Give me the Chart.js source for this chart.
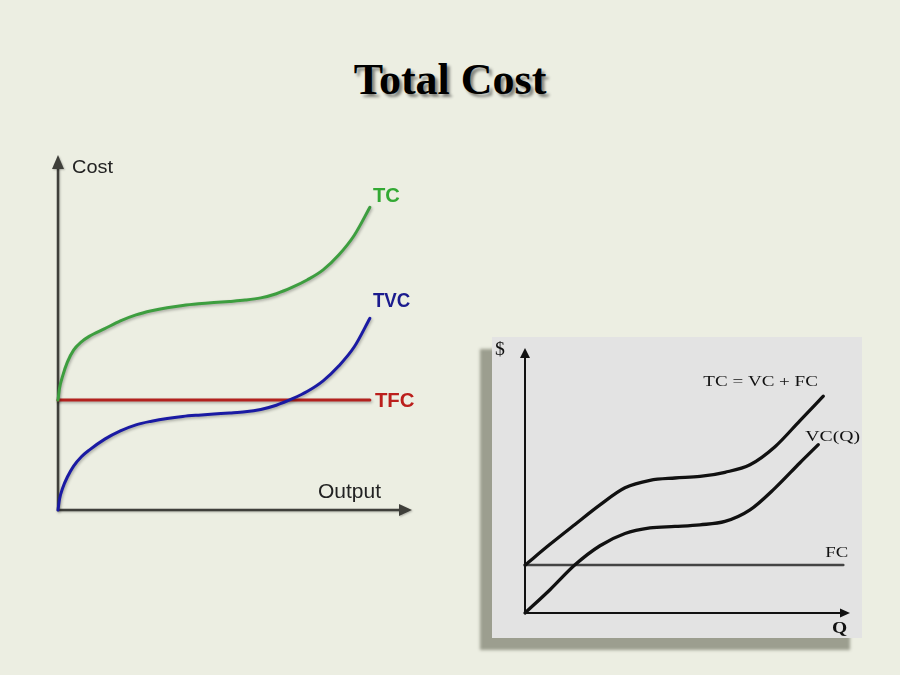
<!DOCTYPE html>
<html>
<head>
<meta charset="utf-8">
<title>Total Cost</title>
<script src="https://cdn.jsdelivr.net/npm/chart.js@4.4.1/dist/chart.umd.min.js"></script>
<style>
  html, body { margin:0; padding:0; }
  body { width:900px; height:675px; background:#eceee2; position:relative; overflow:hidden; }
  .title { position:absolute; left:0; top:58px; width:900px; text-align:center;
           font:bold 44px/44px "Liberation Serif","Times New Roman",serif; color:#000;
           text-shadow:3px 3px 3px rgba(0,0,0,.45); }
  #leftWrap { position:absolute; left:30px; top:130px; width:420px; height:410px; }
  #rightBox { position:absolute; left:492px; top:337px; width:370px; height:301px;
              background:#e3e3e3; box-shadow:-12px 12px 3px #9c9e8f; }
  canvas { display:block; }
</style>
</head>
<body>
<div class="title">Total Cost</div>
<div id="leftWrap"><canvas id="leftChart" width="420" height="410"></canvas></div>
<div id="rightBox"><canvas id="rightChart" width="370" height="301"></canvas></div>

<script>
/* ---------- left diagram: Cost / Output ---------- */
const outputQty = [0, 0.05, 0.15, 0.3, 0.5, 0.75, 1, 1.5, 2, 2.5, 3, 3.5, 4, 4.5, 5, 5.5, 6, 6.5, 7, 7.5, 8, 8.5, 9, 9.5, 10];
const tcValues  = [10, 11.1, 12.2, 13.45, 14.55, 15.3, 15.8, 16.5, 17.2, 17.75, 18.13, 18.41, 18.61, 18.76, 18.88, 18.98, 19.1, 19.3, 19.68, 20.25, 20.95, 21.85, 23.2, 25.0, 27.55];
const tvcValues = [0, 1.0, 2.0, 3.0, 4.0, 4.85, 5.45, 6.45, 7.2, 7.75, 8.08, 8.33, 8.51, 8.63, 8.73, 8.82, 8.93, 9.15, 9.53, 10.1, 10.8, 11.75, 13.1, 14.85, 17.45];
const tfcQty    = [0, 10];
const tfcValues = [10, 10];
const leftMax   = { x: 11.35, y: 32.3 };

/* ---------- right diagram: $ / Q ---------- */
const tcQ       = [0, 2.5, 5, 7.5, 10, 12.5, 15, 17.5, 20, 22.5, 25, 27.5, 29.83];
const tcRight   = [4.77, 6.84, 8.82, 10.77, 12.47, 13.22, 13.45, 13.6, 14.02, 14.77, 16.57, 19.17, 21.6];
const vcQ       = [0, 2.5, 5, 7.5, 10, 12.5, 15, 17.5, 20, 22.5, 25, 27.5, 29.33];
const vcValues  = [0, 2.32, 4.8, 6.7, 7.92, 8.47, 8.62, 8.79, 9.12, 10.27, 12.44, 14.97, 16.77];
const fcQ       = [0, 31.83];
const fcValues  = [4.77, 4.77];
const rightMax  = { x: 32.5, y: 26.4 };

const pts = (xs, ys) => xs.map((x, i) => ({ x, y: ys[i] }));

// axes with arrow heads, curve labels, soft line shadow
function drawAxes(chart, a) {
  const { ctx, scales: { x, y } } = chart;
  const x0 = x.getPixelForValue(x.min), xe = x.getPixelForValue(x.max);
  const y0 = y.getPixelForValue(y.min), ye = y.getPixelForValue(y.max);
  ctx.save();
  if (a.shadow) { ctx.shadowColor = a.shadow; ctx.shadowBlur = 2; ctx.shadowOffsetX = 1; ctx.shadowOffsetY = 1; }
  ctx.strokeStyle = a.color; ctx.fillStyle = a.color; ctx.lineWidth = a.width;
  ctx.beginPath();
  ctx.moveTo(x0, ye + a.vHead - 2); ctx.lineTo(x0, y0); ctx.lineTo(xe - a.hHead + 2, y0);
  ctx.stroke();
  ctx.beginPath();
  ctx.moveTo(x0, ye); ctx.lineTo(x0 - a.vHalf, ye + a.vHead); ctx.lineTo(x0 + a.vHalf, ye + a.vHead);
  ctx.closePath(); ctx.fill();
  ctx.beginPath();
  ctx.moveTo(xe, y0); ctx.lineTo(xe - a.hHead, y0 - a.hHalf); ctx.lineTo(xe - a.hHead, y0 + a.hHalf);
  ctx.closePath(); ctx.fill();
  ctx.restore();
}

function anchorOf(chart, lab) {
  const { x, y } = chart.scales;
  if (lab.at === 'yTop') return [x.getPixelForValue(x.min), y.getPixelForValue(y.max)];
  if (lab.at === 'xEnd') return [x.getPixelForValue(x.max), y.getPixelForValue(y.min)];
  const d = chart.data.datasets[lab.ds].data, p = d[d.length - 1];
  return [x.getPixelForValue(p.x), y.getPixelForValue(p.y)];
}

function drawLabels(chart, labels) {
  const ctx = chart.ctx;
  labels.forEach(lab => {
    const [ax, ay] = anchorOf(chart, lab);
    ctx.save();
    ctx.font = lab.font; ctx.fillStyle = lab.color;
    ctx.textAlign = 'left'; ctx.textBaseline = 'alphabetic';
    ctx.translate(ax + lab.dx, ay + lab.dy);
    ctx.scale(lab.sx || 1, 1);
    ctx.fillText(lab.text, 0, 0);
    ctx.restore();
  });
}

const sketchPlugin = {
  id: 'sketch',
  beforeDatasetsDraw(chart, args, opts) { drawAxes(chart, opts.axis); },
  beforeDatasetDraw(chart, args, opts) {
    const ctx = chart.ctx;
    ctx.save();
    if (opts.lineShadow) {
      ctx.shadowColor = opts.lineShadow; ctx.shadowBlur = 3; ctx.shadowOffsetX = 1; ctx.shadowOffsetY = 1.5;
    }
  },
  afterDatasetDraw(chart) { chart.ctx.restore(); },
  afterDatasetsDraw(chart, args, opts) { drawLabels(chart, opts.labels); }
};
Chart.register(sketchPlugin);

function curve(data, color, width) {
  return { data, showLine: true, borderColor: color, borderWidth: width, pointRadius: 0,
           cubicInterpolationMode: 'monotone', fill: false, borderCapStyle: 'round', clip: false };
}

function baseOptions(max, padding, sketch) {
  return {
    responsive: false, animation: false, events: [],
    layout: { padding },
    scales: {
      x: { type: 'linear', min: 0, max: max.x, display: false },
      y: { type: 'linear', min: 0, max: max.y, display: false }
    },
    plugins: { legend: { display: false }, tooltip: { enabled: false }, sketch }
  };
}

const sans = '"Liberation Sans", Arial, sans-serif';
const serif = '"Liberation Serif", "Times New Roman", serif';

new Chart(document.getElementById('leftChart'), {
  type: 'scatter',
  data: { datasets: [
    curve(pts(outputQty, tcValues), '#3d9e3f', 3),
    curve(pts(outputQty, tvcValues), '#1a1aa3', 3),
    curve(pts(tfcQty, tfcValues), '#b3211e', 3)
  ]},
  options: baseOptions(leftMax, { left: 28, top: 25, right: 38, bottom: 30 }, {
    lineShadow: 'rgba(0,0,0,0.3)',
    axis: { color: '#3f3f3a', width: 2.5, shadow: 'rgba(0,0,0,0.25)', vHead: 14, vHalf: 6, hHead: 13, hHalf: 6 },
    labels: [
      { text: 'TC',     ds: 0, dx: 3,   dy: -5,  font: 'bold 21px ' + sans, color: '#33a934', sx: 0.96 },
      { text: 'TVC',    ds: 1, dx: 3,   dy: -11, font: 'bold 21px ' + sans, color: '#1b1b8e', sx: 0.89 },
      { text: 'TFC',    ds: 2, dx: 5,   dy: 7,   font: 'bold 21px ' + sans, color: '#bb1f1c', sx: 0.97 },
      { text: 'Cost',   at: 'yTop', dx: 14,  dy: 18,  font: '19px ' + sans, color: '#222', sx: 1.05 },
      { text: 'Output', at: 'xEnd', dx: -94, dy: -12, font: '20px ' + sans, color: '#222', sx: 1.05 }
    ]
  })
});

new Chart(document.getElementById('rightChart'), {
  type: 'scatter',
  data: { datasets: [
    curve(pts(tcQ, tcRight), '#111', 3.3),
    curve(pts(vcQ, vcValues), '#111', 3.3),
    curve(pts(fcQ, fcValues), '#444', 2.5)
  ]},
  options: baseOptions(rightMax, { left: 33, top: 11, right: 12, bottom: 25 }, {
    lineShadow: null,
    axis: { color: '#111', width: 2, shadow: null, vHead: 10, vHalf: 5, hHead: 10, hHalf: 4.5 },
    labels: [
      { text: 'TC = VC + FC', ds: 0, dx: -120, dy: -10, font: '14px ' + serif, color: '#111', sx: 1.36 },
      { text: 'VC(Q)',        ds: 1, dx: -13,  dy: -4,  font: '14px ' + serif, color: '#111', sx: 1.41 },
      { text: 'FC',           ds: 2, dx: -18,  dy: -8,  font: '14px ' + serif, color: '#111', sx: 1.34 },
      { text: '$',  at: 'yTop', dx: -30, dy: 7,  font: '18px ' + serif, color: '#111', sx: 1.1 },
      { text: 'Q',  at: 'xEnd', dx: -18, dy: 20, font: 'bold 17px ' + serif, color: '#111', sx: 1.15 }
    ]
  })
});
</script>
</body>
</html>
